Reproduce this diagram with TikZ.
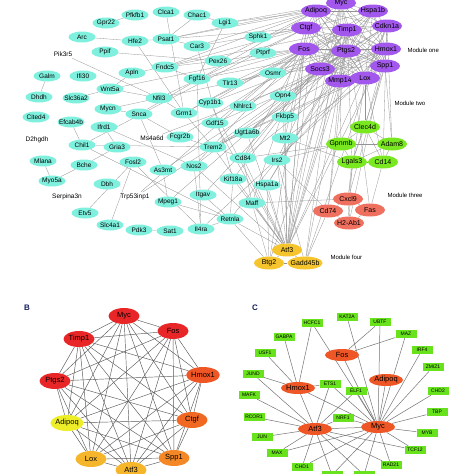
\documentclass[tikz,border=0pt]{standalone}
\usepackage{fontspec}
\setmainfont{Liberation Sans}
\usetikzlibrary{shapes.geometric}
\definecolor{aaffee}{RGB}{128,240,222}
\definecolor{aa55ee}{RGB}{162,88,236}
\definecolor{77ee22}{RGB}{122,232,32}
\definecolor{ee7766}{RGB}{240,112,96}
\definecolor{ffcc33}{RGB}{246,196,44}
\definecolor{ee2222}{RGB}{232,38,40}
\definecolor{ee5522}{RGB}{238,86,38}
\definecolor{ee6622}{RGB}{240,104,34}
\definecolor{ff8822}{RGB}{244,136,38}
\definecolor{ffbb33}{RGB}{246,182,44}
\definecolor{eeee22}{RGB}{238,238,40}
\definecolor{66dd11}{RGB}{104,226,28}
\definecolor{112266}{RGB}{20,30,90}
\pgfdeclarelayer{edges}
\pgfsetlayers{edges,main}
\tikzset{
  gene/.style={ellipse,fill=aaffee,minimum width=27pt,minimum height=11pt,inner xsep=-3pt,inner ysep=0pt,font=\fontsize{6.5}{6.5}\selectfont},
  bare/.style={gene,fill=none},
  hub/.style={ellipse,fill=aa55ee,minimum width=30pt,minimum height=13pt,inner xsep=-2pt,inner ysep=0pt,font=\fontsize{7}{7}\selectfont},
  modtwo/.style={hub,fill=77ee22},
  modthree/.style={hub,fill=ee7766},
  modfour/.style={hub,fill=ffcc33},
  modlabel/.style={font=\fontsize{6}{6}\selectfont,anchor=west},
  core/.style={ellipse,minimum width=31pt,minimum height=16pt,inner sep=0pt,font=\fontsize{7.5}{7.5}\selectfont},
  tfhub/.style={ellipse,fill=ee5522,minimum width=34pt,minimum height=12pt,inner sep=0pt,font=\fontsize{7.5}{7.5}\selectfont},
  tfbox/.style={rectangle,fill=66dd11,minimum width=21pt,minimum height=8pt,inner sep=0.5pt,font=\fontsize{5}{5}\selectfont},
  panel/.style={font=\bfseries\fontsize{8}{8}\selectfont,text=112266},
  linkA/.style={gray!85,line width=0.3pt},
  linkB/.style={black!65,line width=0.45pt},
  linkC/.style={black!55,line width=0.5pt}
}
\begin{document}
\begin{tikzpicture}[x=1pt,y=-1pt]
\useasboundingbox (0,0) rectangle (474,474);
% A: cyan genes
\node[gene] (gpr22) at (106,23) {Gpr22};
\node[gene] (pfkfb1) at (135,15) {Pfkfb1};
\node[gene] (clca1) at (166,12) {Clca1};
\node[gene] (chac1) at (197,15) {Chac1};
\node[gene] (lgi1) at (225,23) {Lgi1};
\node[gene] (arc) at (82,37) {Arc};
\node[gene] (hfe2) at (135,41) {Hfe2};
\node[gene] (psat1) at (166,39) {Psat1};
\node[gene] (car3) at (197,46) {Car3};
\node[gene] (sphk1) at (258,37) {Sphk1};
\node[bare] (pik3r5) at (63,54) {Pik3r5};
\node[gene] (ppif) at (105,52) {Ppif};
\node[gene] (pex26) at (218,61) {Pex26};
\node[gene] (ptprf) at (263,53) {Ptprf};
\node[gene] (fndc5) at (165,67) {Fndc5};
\node[gene] (apln) at (132,73) {Apln};
\node[gene] (galm) at (47,76) {Galm};
\node[gene] (ifi30) at (83,76) {Ifi30};
\node[gene] (fgf16) at (197,79) {Fgf16};
\node[gene] (tlr13) at (230,83) {Tlr13};
\node[gene] (osmr) at (273,73) {Osmr};
\node[gene] (wnt5a) at (110,89) {Wnt5a};
\node[gene] (dhdh) at (39,97) {Dhdh};
\node[gene] (slc36a2) at (76,98) {Slc36a2};
\node[gene] (nfil3) at (159,98) {Nfil3};
\node[gene] (opn4) at (283,96) {Opn4};
\node[gene] (cyp1b1) at (210,103) {Cyp1b1};
\node[gene] (nhlrc1) at (243,106) {Nhlrc1};
\node[gene] (mycn) at (108,109) {Mycn};
\node[gene] (snca) at (139,114) {Snca};
\node[gene] (grm1) at (184,113) {Grm1};
\node[gene] (fkbp5) at (285,117) {Fkbp5};
\node[gene] (cited4) at (36,117) {Cited4};
\node[gene] (efcab4b) at (71,122) {Efcab4b};
\node[gene] (ifrd1) at (104,127) {Ifrd1};
\node[gene] (gdf15) at (215,123) {Gdf15};
\node[gene] (ugt1a6b) at (247,133) {Ugt1a6b};
\node[gene] (mt2) at (285,138) {Mt2};
\node[bare] (d2hgdh) at (37,140) {D2hgdh};
\node[gene] (chil1) at (82,145) {Chil1};
\node[gene] (gria3) at (117,147) {Gria3};
\node[bare] (ms4a6d) at (152,138) {Ms4a6d};
\node[gene] (fcgr2b) at (180,137) {Fcgr2b};
\node[gene] (trem2) at (213,147) {Trem2};
\node[gene] (mlana) at (43,161) {Mlana};
\node[gene] (bche) at (84,165) {Bche};
\node[gene] (fosl2) at (133,162) {Fosl2};
\node[gene] (as3mt) at (163,170) {As3mt};
\node[gene] (nos2) at (194,166) {Nos2};
\node[gene] (cd84) at (243,158) {Cd84};
\node[gene] (irs2) at (277,160) {Irs2};
\node[gene] (myo5a) at (52,181) {Myo5a};
\node[gene] (dbh) at (107,184) {Dbh};
\node[gene] (kif18a) at (233,179) {Kif18a};
\node[gene] (hspa1a) at (267,185) {Hspa1a};
\node[bare] (serpina3n) at (67,197) {Serpina3n};
\node[bare] (trp53inp1) at (135,197) {Trp53inp1};
\node[gene] (mpeg1) at (168,202) {Mpeg1};
\node[gene] (itgav) at (203,195) {Itgav};
\node[gene] (maff) at (252,203) {Maff};
\node[gene] (etv5) at (85,213) {Etv5};
\node[gene] (retnla) at (230,219) {Retnla};
\node[gene] (slc4a1) at (110,225) {Slc4a1};
\node[gene] (pdk3) at (139,230) {Pdk3};
\node[gene] (sat1) at (170,231) {Sat1};
\node[gene] (il4ra) at (201,229) {Il4ra};
% A: module one
\node[hub] (myc) at (341,3) {Myc};
\node[hub] (adipoq) at (316,11) {Adipoq};
\node[hub] (hspa1b) at (373,11) {Hspa1b};
\node[hub] (ctgf) at (306,28) {Ctgf};
\node[hub] (timp1) at (347,30) {Timp1};
\node[hub] (cdkn1a) at (387,26) {Cdkn1a};
\node[hub] (fos) at (304,49) {Fos};
\node[hub] (ptgs2) at (346,51) {Ptgs2};
\node[hub] (hmox1) at (386,49) {Hmox1};
\node[hub] (spp1) at (385,66) {Spp1};
\node[hub] (socs3) at (320,69) {Socs3};
\node[hub] (mmp14) at (340,81) {Mmp14};
\node[hub] (lox) at (365,78) {Lox};
% A: modules two to four
\node[modtwo] (clec4d) at (365,127) {Clec4d};
\node[modtwo] (gpnmb) at (341,144) {Gpnmb};
\node[modtwo] (adam8) at (392,144) {Adam8};
\node[modtwo] (lgals3) at (352,162) {Lgals3};
\node[modtwo] (cd14) at (383,162) {Cd14};
\node[modthree] (cxcl9) at (348,199) {Cxcl9};
\node[modthree] (cd74) at (328,211) {Cd74};
\node[modthree] (fas) at (370,210) {Fas};
\node[modthree] (h2ab1) at (349,223) {H2-Ab1};
\node[modfour] (atf3) at (287,250) {Atf3};
\node[modfour] (btg2) at (269,263) {Btg2};
\node[modfour] (gadd45b) at (305,263) {Gadd45b};
\node[modlabel] (modone) at (404,50) {Module one};
\node[modlabel] (modtwolbl) at (391,103) {Module two};
\node[modlabel] (modthreelbl) at (384,195) {Module three};
\node[modlabel] (modfourlbl) at (327,257) {Module four};
% B
\node[panel] (labB) at (27,308) {B};
\node[core,fill=ee2222] (b-myc) at (124,316) {Myc};
\node[core,fill=ee2222] (b-fos) at (173,331) {Fos};
\node[core,fill=ee5522] (b-hmox1) at (203,375) {Hmox1};
\node[core,fill=ee6622] (b-ctgf) at (192,420) {Ctgf};
\node[core,fill=ff8822] (b-spp1) at (174,458) {Spp1};
\node[core,fill=ffbb33] (b-atf3) at (131,470) {Atf3};
\node[core,fill=ffbb33] (b-lox) at (91,459) {Lox};
\node[core,fill=eeee22] (b-adipoq) at (67,423) {Adipoq};
\node[core,fill=ee2222] (b-ptgs2) at (55,381) {Ptgs2};
\node[core,fill=ee2222] (b-timp1) at (79,339) {Timp1};
% C
\node[panel] (labC) at (255,308) {C};
\node[tfhub] (c-fos) at (342,355) {Fos};
\node[tfhub] (c-adipoq) at (386,380) {Adipoq};
\node[tfhub] (c-hmox1) at (298,388) {Hmox1};
\node[tfhub] (c-atf3) at (315,429) {Atf3};
\node[tfhub] (c-myc) at (378,427) {Myc};
\node[tfbox] (c-kat2a) at (347,317) {KAT2A};
\node[tfbox] (c-hcfc1) at (312,323) {HCFC1};
\node[tfbox] (c-ubtf) at (380,322) {UBTF};
\node[tfbox] (c-gabpa) at (284,337) {GABPA};
\node[tfbox] (c-maz) at (406,334) {MAZ};
\node[tfbox] (c-usf1) at (265,353) {USF1};
\node[tfbox] (c-irf4) at (422,350) {IRF4};
\node[tfbox] (c-zmiz1) at (433,367) {ZMIZ1};
\node[tfbox] (c-jund) at (253,374) {JUND};
\node[tfbox] (c-ets1) at (330,384) {ETS1};
\node[tfbox] (c-elf1) at (356,391) {ELF1};
\node[tfbox] (c-chd2) at (438,391) {CHD2};
\node[tfbox] (c-mafk) at (249,395) {MAFK};
\node[tfbox] (c-tbp) at (437,412) {TBP};
\node[tfbox] (c-rcor1) at (254,417) {RCOR1};
\node[tfbox] (c-nrf1) at (343,418) {NRF1};
\node[tfbox] (c-myb) at (427,433) {MYB};
\node[tfbox] (c-jun) at (262,437) {JUN};
\node[tfbox] (c-max) at (277,453) {MAX};
\node[tfbox] (c-tcf12) at (415,450) {TCF12};
\node[tfbox] (c-chd1) at (302,467) {CHD1};
\node[tfbox] (c-rad21) at (391,465) {RAD21};
\node[tfbox] (c-tfa) at (332,475) {};
\node[tfbox] (c-tfb) at (364,475) {};
\begin{pgfonlayer}{edges}
% A: module one, dense
\foreach \a [count=\i] in {myc,adipoq,hspa1b,ctgf,timp1,cdkn1a,fos,ptgs2,hmox1,spp1,socs3,mmp14,lox}
  \foreach \b [count=\j] in {myc,adipoq,hspa1b,ctgf,timp1,cdkn1a,fos,ptgs2,hmox1,spp1,socs3,mmp14,lox}
    {\ifnum\i<\j \draw[linkA] (\a) -- (\b);\fi}
% A: module one to the rest
\foreach \a/\b in {ctgf/psat1,adipoq/psat1,adipoq/car3,adipoq/lgi1,myc/lgi1,ctgf/sphk1,fos/ptprf,fos/fgf16,fos/pex26,adipoq/pex26,
  ctgf/fndc5,timp1/fndc5,adipoq/fndc5,fos/tlr13,ptgs2/tlr13,socs3/osmr,fos/osmr,fos/cyp1b1,ptgs2/cyp1b1,hmox1/gdf15,fos/gdf15,
  socs3/nhlrc1,timp1/nhlrc1,ctgf/opn4,ptgs2/fkbp5,fos/mt2,spp1/mt2,lox/trem2,ptgs2/trem2,spp1/trem2,fos/cd84,mmp14/cd84,
  hmox1/irs2,socs3/irs2,fos/nos2,ptgs2/nos2,timp1/kif18a,ptgs2/hspa1a,hspa1b/hspa1a,fos/maff,ptgs2/ugt1a6b,cdkn1a/ugt1a6b,
  hmox1/ms4a6d,fos/grm1,timp1/fcgr2b,socs3/itgav,mmp14/retnla,lox/il4ra,ptgs2/as3mt,ctgf/nfil3,adipoq/snca,fos/wnt5a,
  hmox1/mycn,timp1/grm1,ptgs2/fgf16,ctgf/car3,myc/psat1,socs3/mpeg1,fos/trp53inp1,ctgf/chil1,hmox1/trem2,timp1/cd84,
  lox/clec4d,spp1/adam8,mmp14/gpnmb,spp1/lgals3,lox/cd14,timp1/lgals3,hmox1/cd14,hmox1/clec4d,cdkn1a/adam8,
  fos/atf3,ptgs2/atf3,myc/atf3,hmox1/atf3,timp1/atf3,socs3/atf3,ctgf/atf3,cdkn1a/atf3,mmp14/atf3,adipoq/atf3,
  ptgs2/gadd45b,fos/btg2,myc/gadd45b,cdkn1a/gadd45b,timp1/btg2,spp1/cxcl9,lox/cxcl9,ptgs2/cd74,timp1/fas,hmox1/h2ab1,mmp14/cd74}
  \draw[linkA] (\a) -- (\b);
% A: modules two to four and cyan links
\foreach \a/\b in {clec4d/gpnmb,clec4d/adam8,clec4d/lgals3,clec4d/cd14,gpnmb/lgals3,gpnmb/adam8,adam8/cd14,lgals3/cd14,
  adam8/lgals3,lgals3/cxcl9,lgals3/h2ab1,cd14/fas,gpnmb/irs2,gpnmb/cd84,lgals3/mt2,cxcl9/cd74,cxcl9/fas,cd74/h2ab1,fas/h2ab1,
  cxcl9/h2ab1,cd74/irs2,cxcl9/maff,
  atf3/btg2,atf3/gadd45b,btg2/gadd45b,atf3/maff,atf3/hspa1a,atf3/irs2,atf3/mt2,atf3/cd84,atf3/kif18a,atf3/trem2,
  atf3/ugt1a6b,atf3/gdf15,atf3/retnla,btg2/maff,btg2/retnla,gadd45b/cd74,gadd45b/irs2,btg2/hspa1a,atf3/fkbp5,atf3/cyp1b1,
  atf3/nos2,atf3/opn4,
  gpr22/pfkfb1,arc/hfe2,hfe2/psat1,psat1/chac1,psat1/car3,galm/dhdh,ppif/pex26,pik3r5/nfil3,clca1/grm1,apln/fndc5,
  fndc5/fgf16,slc36a2/wnt5a,wnt5a/nfil3,mycn/snca,efcab4b/chil1,mlana/myo5a,bche/gria3,bche/myo5a,pdk3/sat1,
  fosl2/slc4a1,fosl2/etv5,il4ra/retnla,mpeg1/retnla,itgav/retnla,as3mt/mpeg1,ms4a6d/fcgr2b,fcgr2b/trem2,gria3/ifrd1,
  chil1/trem2,hfe2/grm1,chac1/lgi1,snca/fcgr2b,nfil3/grm1,trem2/cd84,fosl2/il4ra,nos2/il4ra,chil1/retnla,
  trp53inp1/trem2,fndc5/pex26,fgf16/il4ra,grm1/trem2,wnt5a/apln,snca/as3mt,ifrd1/nos2,cd84/maff,kif18a/retnla,
  lgi1/fgf16,car3/kif18a}
  \draw[linkA] (\a) -- (\b);
% B: every pair
\foreach \a [count=\i] in {myc,fos,hmox1,ctgf,spp1,atf3,lox,adipoq,ptgs2,timp1}
  \foreach \b [count=\j] in {myc,fos,hmox1,ctgf,spp1,atf3,lox,adipoq,ptgs2,timp1}
    {\ifnum\i<\j \draw[linkB] (b-\a) -- (b-\b);\fi}
% C
\foreach \a/\b in {hcfc1/hmox1,hcfc1/myc,kat2a/myc,ubtf/fos,ubtf/myc,maz/fos,maz/myc,gabpa/hmox1,usf1/hmox1,irf4/myc,
  zmiz1/myc,jund/hmox1,jund/atf3,fos/myc,adipoq/myc,hmox1/myc,hmox1/ets1,ets1/atf3,ets1/myc,elf1/atf3,elf1/myc,
  chd2/myc,mafk/atf3,tbp/myc,rcor1/atf3,nrf1/atf3,nrf1/myc,atf3/myc,myb/myc,jun/atf3,max/atf3,max/myc,tcf12/atf3,
  tcf12/myc,chd1/atf3,chd1/myc,rad21/atf3,rad21/myc,tfa/atf3,tfa/myc,tfb/atf3,tfb/myc,hmox1/atf3}
  \draw[linkC] (c-\a) -- (c-\b);
\end{pgfonlayer}
\end{tikzpicture}
\end{document}
